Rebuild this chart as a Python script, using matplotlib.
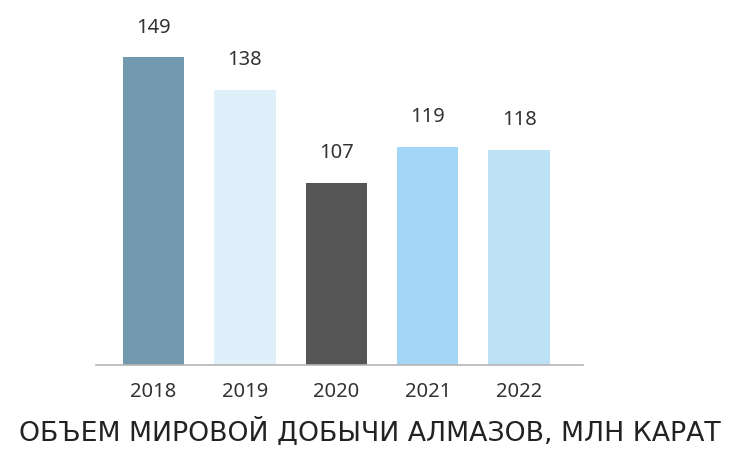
import matplotlib
matplotlib.use("Agg")
import matplotlib.pyplot as plt

years = ["2018", "2019", "2020", "2021", "2022"]
values = [149, 138, 107, 119, 118]
colors = ["#7399AF", "#DFF0FA", "#555555", "#A3D6F5", "#BDE1F5"]
title = "ОБЪЕМ МИРОВОЙ ДОБЫЧИ АЛМАЗОВ, МЛН КАРАТ"

plt.rcParams['font.family'] = ['Noto Sans', 'DejaVu Sans']

fig = plt.figure(figsize=(7.36, 4.62), dpi=100)
ax = fig.add_axes([96/736, 1-365/462, (583-96)/736, 365/462])

x = list(range(len(years)))
ax.bar(x, values, width=0.67, color=colors, bottom=0)
ax.set_xlim(-0.63, 4.70)
ax.set_ylim(46, 46 + 365/2.99)

for xi, v in zip(x, values):
    ax.annotate(str(v), (xi, v), xytext=(0, 14), textcoords="offset points",
                ha="center", va="bottom", fontsize=14.5, color="#333333")

for s in ["top", "right", "left"]:
    ax.spines[s].set_visible(False)
ax.spines["bottom"].set_color("#B5B5B5")
ax.spines["bottom"].set_linewidth(1.2)
ax.set_yticks([])
ax.set_xticks(x)
ax.set_xticklabels(years, fontsize=14.5, color="#333333")
ax.tick_params(axis="x", length=0, pad=12)

fig.text(369.5/736, 1-432/462, title, ha="center", va="center",
         fontsize=19.3, color="#222222", family=['DejaVu Sans'])

fig.savefig("out.png", dpi=100)
